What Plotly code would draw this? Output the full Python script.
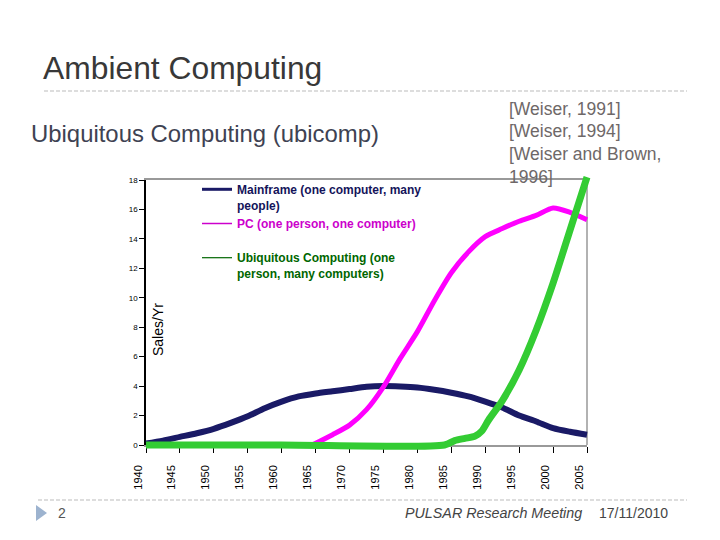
import plotly.graph_objects as go

W, H = 720, 540
FONT = "Liberation Sans, Arial, sans-serif"

# ---------------- data ----------------
tick_years = [1940, 1945, 1950, 1955, 1960, 1965, 1970, 1975, 1980, 1985, 1990, 1995, 2000, 2005]
y_ticks = [0, 2, 4, 6, 8, 10, 12, 14, 16, 18]

mf_years = [1940, 1942.5, 1945, 1947.5, 1950, 1952.5, 1955, 1957.5, 1960, 1962.5, 1965, 1967.5,
            1970, 1972.5, 1975, 1977.5, 1980, 1982.5, 1985, 1987.5, 1990, 1992.5, 1995, 1997.5,
            2000, 2002.5, 2005]
mf_sales = [0.1, 0.3, 0.55, 0.8, 1.1, 1.5, 1.95, 2.5, 2.95, 3.3, 3.5, 3.65,
            3.8, 3.95, 4.0, 3.97, 3.9, 3.75, 3.55, 3.3, 2.95, 2.55, 2.0, 1.6,
            1.15, 0.9, 0.7]

pc_years = [1964.5, 1967.5, 1970, 1972.5, 1975, 1977.5, 1980, 1982.5, 1985, 1987.5, 1990,
            1992.5, 1995, 1997.5, 2000, 2002.5, 2005]
pc_sales = [0.0, 0.7, 1.35, 2.4, 3.95, 5.9, 7.7, 9.8, 11.7, 13.1, 14.15,
            14.7, 15.2, 15.6, 16.1, 15.8, 15.3]

ub_years = [1940, 1960, 1984, 1985.5, 1987, 1988.5, 1989.5, 1990.5, 1992.5, 1995, 1997.5,
            2000, 2002.5, 2005]
ub_sales = [0.0, 0.0, 0.0, 0.3, 0.45, 0.6, 0.95, 1.7, 3.0, 5.1, 7.8,
            11.0, 14.6, 18.2]

series_names = [
    "Mainframe (one computer, many<br>people)",
    "PC (one person, one computer)<br> ",
    "Ubiquitous Computing (one<br>person, many computers)",
]
line_colors = ["#1a1a66", "#ff00ff", "#33cc33"]
legend_line_colors = ["#1a1a66", "#cc00cc", "#006600"]
text_colors = ["#14145a", "#cc00cc", "#006600"]
legend_widths = [3, 1.5, 1.2]
data_widths = [6, 5, 7]

# ---------------- geometry (pixels) ----------------
px_left, px_right, px_top, px_bottom = 146, 587, 180, 445
x_rng = [tick_years[0], tick_years[-1]]
y_rng = [y_ticks[0], y_ticks[-1]]
xpad, ypad = 0.7, 0.5  # extra range for the un-clipped data subplot

ppx = (px_right - px_left) / (x_rng[1] - x_rng[0])
ppy = (px_bottom - px_top) / (y_rng[1] - y_rng[0])

xd1 = [px_left / W, px_right / W]
yd1 = [(H - px_bottom) / H, (H - px_top) / H]
xd2 = [(px_left - xpad * ppx) / W, (px_right + xpad * ppx) / W]
yd2 = [(H - px_bottom - ypad * ppy) / H, (H - px_top + ypad * ppy) / H]

fig = go.Figure()

# legend-only entries (thin sample lines as in the original)
for name, lc, tc, lw in zip(series_names, legend_line_colors, text_colors, legend_widths):
    fig.add_trace(go.Scatter(
        x=[None], y=[None], mode="lines", xaxis="x", yaxis="y",
        line=dict(color=lc, width=lw),
        name=f"<span style='color:{tc}'><b>{name}</b></span>",
        showlegend=True,
    ))

# data lines
for xs, ys, lc, lw in [(mf_years, mf_sales, line_colors[0], data_widths[0]),
                       (pc_years, pc_sales, line_colors[1], data_widths[1]),
                       (ub_years, ub_sales, line_colors[2], data_widths[2])]:
    fig.add_trace(go.Scatter(
        x=xs, y=ys, mode="lines", xaxis="x2", yaxis="y2",
        line=dict(color=lc, width=lw, shape="spline", smoothing=0.7),
        showlegend=False, hoverinfo="skip",
    ))

fig.update_layout(
    width=W, height=H,
    margin=dict(l=0, r=0, t=0, b=0, pad=0, autoexpand=False),
    paper_bgcolor="white",
    plot_bgcolor="rgba(0,0,0,0)",
    font=dict(family=FONT, color="black"),
    xaxis=dict(
        domain=xd1, range=x_rng, tickvals=tick_years, ticktext=[str(t) for t in tick_years],
        tickangle=-90, tickfont=dict(size=11, color="black"),
        ticks="outside", ticklen=6, tickcolor="black", tickwidth=1,
        showline=True, linecolor="#999999", linewidth=1.5, mirror=True,
        showgrid=False, zeroline=False, layer="below traces",
        ticklabelshift=-8, ticklabelstandoff=8, automargin=False,
    ),
    yaxis=dict(
        domain=yd1, range=y_rng, tickvals=y_ticks, ticktext=[str(t) for t in y_ticks],
        tickfont=dict(size=8, color="black"),
        ticks="outside", ticklen=5, tickcolor="black", tickwidth=1,
        showline=True, linecolor="black", linewidth=1.5,
        showgrid=False, zeroline=False, layer="below traces", automargin=False,
    ),
    xaxis2=dict(domain=xd2, range=[x_rng[0] - xpad, x_rng[1] + xpad], visible=False,
                anchor="y2", showgrid=False, zeroline=False, automargin=False),
    yaxis2=dict(domain=yd2, range=[y_rng[0] - ypad, y_rng[1] + ypad], visible=False,
                anchor="x2", showgrid=False, zeroline=False, automargin=False),
    legend=dict(
        x=197 / W, y=1 - 175 / H, xanchor="left", yanchor="top",
        bgcolor="rgba(0,0,0,0)", font=dict(size=12, family=FONT),
        valign="top", tracegroupgap=0, itemwidth=30,
    ),
    showlegend=True,
)

# right border of the plot frame
fig.add_shape(type="line", xref="x domain", yref="y domain", x0=1, x1=1, y0=0, y1=1,
              line=dict(color="#999999", width=1.5), layer="below")

def px2paper(x, y):
    return x / W, 1 - y / H

# slide decorations: dashed separators
for (xa, xb, yy) in [(44, 687, 91), (38, 687, 500)]:
    a = px2paper(xa, yy); b = px2paper(xb, yy)
    fig.add_shape(type="line", xref="paper", yref="paper", x0=a[0], x1=b[0], y0=a[1], y1=b[1],
                  line=dict(color="#bbbbbb", width=1, dash="4px,2px"))

# footer triangle bullet
p1 = px2paper(36, 505); p2 = px2paper(47, 513); p3 = px2paper(36, 521)
fig.add_shape(type="path", xref="paper", yref="paper",
              path=f"M {p1[0]} {p1[1]} L {p2[0]} {p2[1]} L {p3[0]} {p3[1]} Z",
              fillcolor="#9db3cf", line=dict(width=0))

def add_text(text, x, y, size, color, italic=False, angle=0, xanchor="left"):
    fx, fy = px2paper(x, y)
    fig.add_annotation(text=text, x=fx, y=fy, xref="paper", yref="paper",
                       xanchor=xanchor, yanchor="middle", showarrow=False, textangle=angle,
                       font=dict(size=size, color=color, family=FONT,
                                 style="italic" if italic else "normal"))

add_text("Ambient Computing", 41, 68, 31.8, "#383838")
add_text("Ubiquitous Computing (ubicomp)", 29, 134, 23.9, "#3e4252")
weiser_lines = ["[Weiser, 1991]", "[Weiser, 1994]", "[Weiser and Brown,", "1996]"]
for i, ln in enumerate(weiser_lines):
    add_text(ln, 507, 109 + 22.5 * i, 17.5, "#6e6868")
add_text("Sales/Yr", 158, 330, 14, "black", angle=-90, xanchor="center")
add_text("2", 56, 513, 14, "#555555")
add_text("PULSAR Research Meeting", 403, 513, 14.3, "#444444", italic=True)
add_text("17/11/2010", 597, 513, 14, "#444444")

fig.write_html("out.html")
